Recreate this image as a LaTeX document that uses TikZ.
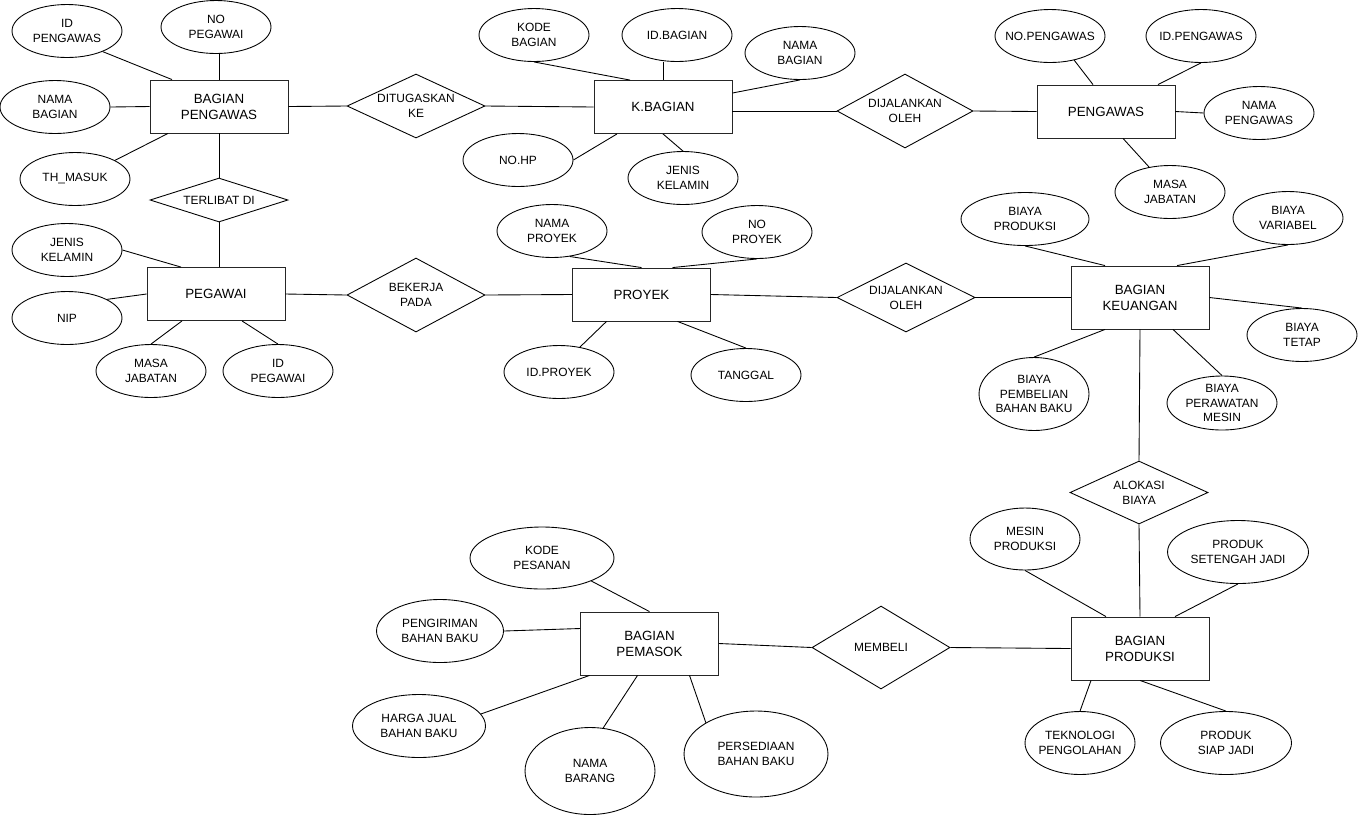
\documentclass[tikz,border=0pt]{standalone}
\usepackage{fontspec}
\setmainfont{Liberation Sans}
\usetikzlibrary{shapes.geometric,calc}

\begin{document}
\begin{tikzpicture}[
	x=0.02cm, y=-0.02cm,
	ent/.style = {rectangle, draw=black!85, line width=0.5pt, minimum width=2.76cm, minimum height=1.06cm, align=center, font={\fontsize{7.6pt}{9.1pt}\selectfont}},
	att/.style = {ellipse, draw=black, line width=0.5pt, inner sep=0pt, minimum width=2.2cm, minimum height=1.06cm, align=center, font={\fontsize{6.8pt}{8.5pt}\selectfont}},
	rel/.style = {diamond, draw=black, line width=0.5pt, inner sep=0pt, aspect=2, minimum width=2.76cm, align=center, font={\fontsize{6.8pt}{8.5pt}\selectfont}},
	ln/.style = {line width=0.5pt}
	]
	
	\useasboundingbox (0,0) rectangle (1358,816);
	
	%Entities
	\node[ent]	(bp)	at	(219,106.5)	{BAGIAN\\PENGAWAS};
	\node[ent]	(kb)	at	(663,107)	{K.BAGIAN};
	\node[ent]	(pgw)	at	(1106,111.5)	{PENGAWAS};
	\node[ent]	(peg)	at	(216,294)	{PEGAWAI};
	\node[ent]	(pry)	at	(641.5,294.5)	{PROYEK};
	\node[ent, minimum height=1.26cm]	(keu)	at	(1140,297.5)	{BAGIAN\\KEUANGAN};
	\node[ent, minimum height=1.26cm]	(pms)	at	(649.5,643.5)	{BAGIAN\\PEMASOK};
	\node[ent, minimum height=1.26cm]	(prd)	at	(1140,648.5)	{BAGIAN\\PRODUKSI};
	
	%Relations
	\node[rel, minimum height=1.28cm]	(tugas)		at	(416,106)	{DITUGASKAN\\KE};
	\node[rel, minimum height=1.48cm, minimum width=2.72cm]	(jalan1)	at	(905,111)	{DIJALANKAN\\OLEH};
	\node[rel, minimum height=0.88cm]	(terlibat)	at	(219,200)	{TERLIBAT DI};
	\node[rel, minimum height=1.48cm]	(kerja)		at	(416,295)	{BEKERJA\\PADA};
	\node[rel, minimum height=1.38cm]	(jalan2)	at	(906,297.5)	{DIJALANKAN\\OLEH};
	\node[rel, minimum height=1.26cm]	(alokasi)	at	(1139,492.5)	{ALOKASI\\BIAYA};
	\node[rel, minimum height=1.66cm]	(beli)		at	(881,647.5)	{MEMBELI};
	
	%Attributes
	\node[att]	(idpgw)		at	(67,31)		{ID\\PENGAWAS};
	\node[att]	(nopeg)		at	(216,27)	{NO\\PEGAWAI};
	\node[att]	(nmbag)		at	(55,107)	{NAMA\\BAGIAN};
	\node[att]	(thmasuk)	at	(75,179)	{TH\_MASUK};
	\node[att]	(kdbag)		at	(534,35)	{KODE\\BAGIAN};
	\node[att]	(idbag)		at	(677,35)	{ID.BAGIAN};
	\node[att]	(nmbag2)	at	(800,53)	{NAMA\\BAGIAN};
	\node[att]	(nohp)		at	(518,160)	{NO.HP};
	\node[att]	(jk1)		at	(683,178)	{JENIS\\KELAMIN};
	\node[att, inner xsep=-4pt]	(nopgw)		at	(1050,36)	{NO.PENGAWAS};
	\node[att, inner xsep=-3pt]	(idpgw2)	at	(1201,36)	{ID.PENGAWAS};
	\node[att]	(nmpgw)		at	(1259,113)	{NAMA\\PENGAWAS};
	\node[att]	(msjab1)	at	(1170,192)	{MASA\\JABATAN};
	\node[att]	(jk2)		at	(67,250)	{JENIS\\KELAMIN};
	\node[att]	(nip)		at	(67,318)	{NIP};
	\node[att]	(msjab2)	at	(151,371)	{MASA\\JABATAN};
	\node[att]	(idpeg)		at	(278,371)	{ID\\PEGAWAI};
	\node[att]	(nmpry)		at	(552,231)	{NAMA\\PROYEK};
	\node[att]	(nopry)		at	(757,232)	{NO\\PROYEK};
	\node[att]	(idpry)		at	(559,372)	{ID.PROYEK};
	\node[att]	(tgl)		at	(746,375)	{TANGGAL};
	\node[att, minimum width=2.56cm]	(bprod)		at	(1025,219)	{BIAYA\\PRODUKSI};
	\node[att]	(bvar)		at	(1288,218)	{BIAYA\\VARIABEL};
	\node[att]	(btetap)	at	(1302,335)	{BIAYA\\TETAP};
	\node[att, minimum height=1.46cm]	(bbeli)		at	(1034,394)	{BIAYA\\PEMBELIAN\\BAHAN BAKU};
	\node[att]	(brawat)	at	(1222,403)	{BIAYA\\PERAWATAN\\MESIN};
	\node[att, minimum height=1.24cm]	(mesin)		at	(1025,539)	{MESIN\\PRODUKSI};
	\node[att, minimum width=2.82cm, minimum height=1.26cm]	(setengah)	at	(1238,552)	{PRODUK\\SETENGAH JADI};
	\node[att, minimum height=1.26cm, inner xsep=-3pt]	(tekno)		at	(1080,743)	{TEKNOLOGI\\PENGOLAHAN};
	\node[att, minimum width=2.62cm, minimum height=1.26cm]	(siap)		at	(1226,743)	{PRODUK\\SIAP JADI};
	\node[att, minimum width=2.88cm, minimum height=1.24cm]	(kdpes)		at	(542,558)	{KODE\\PESANAN};
	\node[att, minimum width=2.54cm, minimum height=1.26cm]	(kirim)		at	(440,631)	{PENGIRIMAN\\BAHAN BAKU};
	\node[att, minimum width=2.66cm, minimum height=1.26cm]	(harga)		at	(419,726)	{HARGA JUAL\\BAHAN BAKU};
	\node[att, minimum width=2.6cm, minimum height=1.74cm]	(nmbrg)		at	(590,771)	{NAMA\\BARANG};
	\node[att, minimum width=2.88cm, minimum height=1.72cm]	(sedia)		at	(756,754)	{PERSEDIAAN\\BAHAN BAKU};
	
	%Lines
	\draw[ln]	(idpgw.-30)	--	($(bp.north)+(-47,0)$);
	\draw[ln]	(bp.north |- nopeg.south)	--	(bp.north);
	\draw[ln]	(nmbag.east)	--	(bp.west);
	\draw[ln]	(thmasuk.25)	--	($(bp.south)+(-51,0)$);
	\draw[ln]	(bp.east)	--	(tugas.west);
	\draw[ln]	(bp.south)	--	(terlibat.north);
	\draw[ln]	(kdbag.south)	--	($(kb.north)+(-33,0)$);
	\draw[ln]	(kb.north |- idbag.south)	--	(kb.north);
	\draw[ln]	(nmbag2.south)	--	($(kb.east)+(0,-14)$);
	\draw[ln]	(tugas.east)	--	(kb.west);
	\draw[ln]	(nohp.east)	--	($(kb.south)+(-46,0)$);
	\draw[ln]	(jk1.north)	--	(kb.south);
	\draw[ln]	(kb.east |- jalan1.west)	--	(jalan1.west);
	\draw[ln]	(nopgw.-45)	--	($(pgw.north)+(-13,0)$);
	\draw[ln]	(idpgw2.south)	--	($(pgw.north)+(52,0)$);
	\draw[ln]	(jalan1.east)	--	(pgw.west);
	\draw[ln]	(pgw.east)	--	(nmpgw.west);
	\draw[ln]	(msjab1.130)	--	($(pgw.south)+(17,0)$);
	\draw[ln]	(terlibat.south)	--	(terlibat.south |- peg.north);
	\draw[ln]	(jk2.east)	--	($(peg.north)+(-35,0)$);
	\draw[ln]	(nip.25)	--	(peg.west);
	\draw[ln]	(msjab2.north)	--	($(peg.south)+(-34,0)$);
	\draw[ln]	(idpeg.north)	--	($(peg.south)+(26,0)$);
	\draw[ln]	(peg.east)	--	(kerja.west);
	\draw[ln]	(kerja.east)	--	(pry.west);
	\draw[ln]	(nmpry.-55)	--	(pry.north);
	\draw[ln]	(nopry.south)	--	($(pry.north)+(31,0)$);
	\draw[ln]	(idpry.50)	--	($(pry.south)+(-35,0)$);
	\draw[ln]	(tgl.north)	--	($(pry.south)+(36,0)$);
	\draw[ln]	(pry.east)	--	(jalan2.west);
	\draw[ln]	(jalan2.east)	--	(keu.west);
	\draw[ln]	(bprod.south)	--	($(keu.north)+(-35,0)$);
	\draw[ln]	(bvar.south)	--	($(keu.north)+(37,0)$);
	\draw[ln]	(keu.east)	--	(btetap.north);
	\draw[ln]	(bbeli.north)	--	($(keu.south)+(-35,0)$);
	\draw[ln]	(brawat.north)	--	($(keu.south)+(33,0)$);
	\draw[ln]	(keu.south)	--	(alokasi.north);
	\draw[ln]	(alokasi.south)	--	(prd.north);
	\draw[ln]	(mesin.south)	--	($(prd.north)+(-34,0)$);
	\draw[ln]	(setengah.south)	--	($(prd.north)+(35,0)$);
	\draw[ln]	(beli.east)	--	(prd.west);
	\draw[ln]	(tekno.north)	--	($(prd.south)+(-49,0)$);
	\draw[ln]	(siap.north)	--	(prd.south);
	\draw[ln]	(pms.east)	--	(beli.west);
	\draw[ln]	(kdpes.-25)	--	(pms.north);
	\draw[ln]	(kirim.east)	--	($(pms.west)+(0,-15)$);
	\draw[ln]	(harga.11)	--	($(pms.south)+(-60,0)$);
	\draw[ln]	(nmbrg.73)	--	($(pms.south)+(-12,0)$);
	\draw[ln]	(sedia.148)	--	($(pms.south)+(40,0)$);
	
\end{tikzpicture}
\end{document}
